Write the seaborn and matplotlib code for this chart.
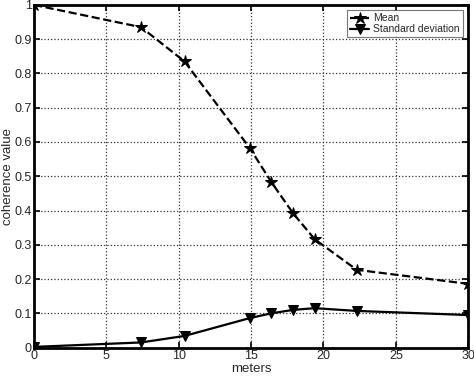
import numpy as np
import pandas as pd
import matplotlib
matplotlib.use('Agg')
import matplotlib.pyplot as plt
import seaborn as sns

# values
distance_m = [0, 7.4, 10.4, 14.9, 16.4, 17.9, 19.4, 22.3, 30]
coherence_mean = [1.0, 0.935, 0.835, 0.583, 0.483, 0.392, 0.316, 0.227, 0.186]
coherence_std = [0.002, 0.015, 0.034, 0.086, 0.100, 0.110, 0.115, 0.107, 0.095]
x_ticks = [0, 5, 10, 15, 20, 25, 30]
y_ticks = [0, 0.1, 0.2, 0.3, 0.4, 0.5, 0.6, 0.7, 0.8, 0.9, 1]

sns.set_theme(style="white")
plt.rcParams['font.family'] = ['Liberation Sans', 'DejaVu Sans']

df = pd.DataFrame({"meters": distance_m, "mean": coherence_mean, "std": coherence_std})

fig = plt.figure(figsize=(4.74, 3.77), dpi=100)
ax = fig.add_axes([0.0717, 0.078, 0.916, 0.909])

sns.lineplot(data=df, x="meters", y="mean", ax=ax, color="black", linestyle="--",
             linewidth=1.6, marker="*", markersize=9, markeredgecolor="black",
             label="Mean")
sns.lineplot(data=df, x="meters", y="std", ax=ax, color="black", linestyle="-",
             linewidth=1.6, marker="v", markersize=6.5, markeredgecolor="black",
             label="Standard deviation")

ax.set_xlim(0, 30)
ax.set_ylim(0, 1)
ax.set_xticks(x_ticks)
ax.set_yticks(y_ticks)
ax.set_xticklabels([str(t) for t in x_ticks])
ax.set_yticklabels(["0" if t == 0 else ("1" if t == 1 else f"{t:.1f}") for t in y_ticks])
ax.grid(True, linestyle=":", color="#333333", linewidth=0.9)
ax.tick_params(direction="in", length=4, width=1.2, labelsize=9, pad=1.5,
               top=True, right=True, bottom=True, left=True, color="black")
for s in ax.spines.values():
    s.set_color("black")
    s.set_linewidth(2)

ax.set_xlabel("meters", fontsize=9.5, labelpad=1)
ax.set_ylabel("coherence value", fontsize=9.5, labelpad=0)
ax.yaxis.set_label_coords(-0.046, 0.5)

leg = ax.legend(loc="upper right", fontsize=7.5, frameon=True, fancybox=False,
                edgecolor="#555555", borderpad=0.3, labelspacing=0.1,
                handlelength=1.8, handletextpad=0.4, borderaxespad=0.5)
leg.get_frame().set_linewidth(0.8)

fig.savefig("out.png", dpi=100)
